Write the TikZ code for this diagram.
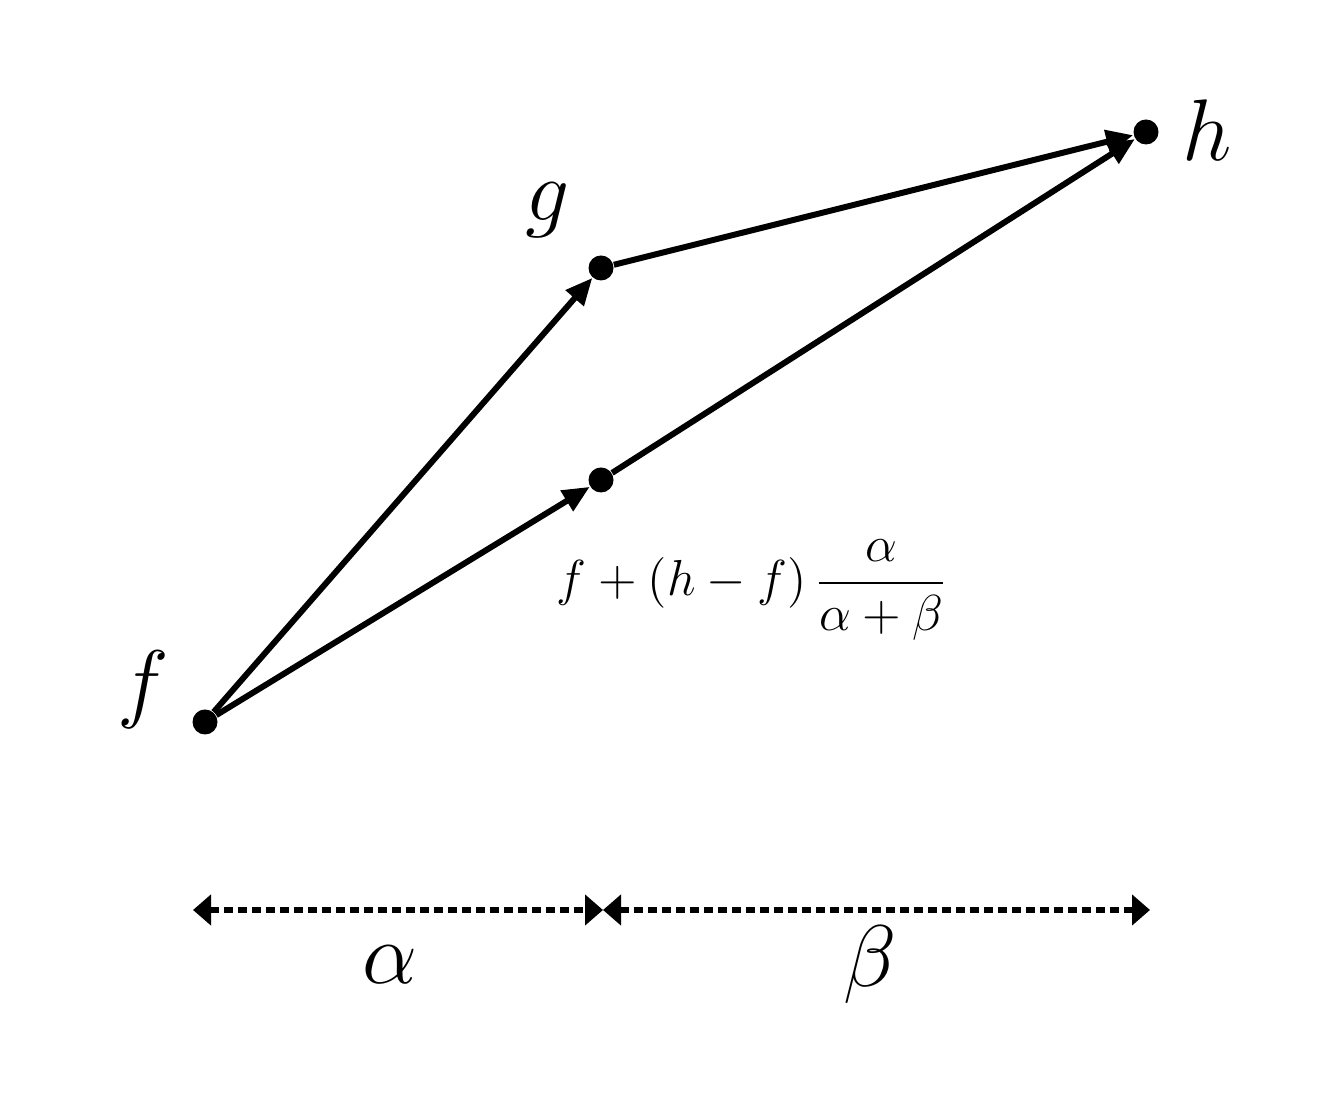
\documentclass[tikz,border=0pt]{standalone}
\usepackage{amsmath}
\usetikzlibrary{arrows.meta}
\tikzset{dot/.style={circle, fill=black, inner sep=0pt, minimum size=0.25cm}}
\tikzset{vec/.style={line width=1.7pt, -{Triangle[length=0.27cm,width=0.23cm]}}}
\tikzset{span/.style={line width=1.7pt, dash pattern=on 0.09cm off 0.05cm,
  {Triangle[length=0.18cm,width=0.3cm]}-{Triangle[length=0.18cm,width=0.3cm]}}}
\tikzset{lbl/.style={font=\fontsize{27}{32}\selectfont}}

\begin{document}
\begin{tikzpicture}
      \useasboundingbox (0, 0) rectangle (13.43, 10.95);

      \node [dot] (f) at (2.05, 3.73) {};
      \node [dot] (g) at (6.01, 8.27) {};
      \node [dot] (h) at (11.46, 9.63) {};
      \node [dot] (m) at (6.01, 6.15) {};

      \draw [vec] (f) -- (g);
      \draw [vec] (g) -- (h);
      \draw [vec] (f) -- (m);
      \draw [vec] (m) -- (h);

      \node [lbl] (lf) at (1.43, 4.05) {$f$};
      \node [lbl] (lg) at (5.48, 8.85) {$g$};
      \node [lbl] (lh) at (12.07, 9.65) {$h$};
      \node [font=\fontsize{14}{17}\selectfont] (expr) at (7.52, 5.05) {$f+(h-f)\,\dfrac{\alpha}{\alpha+\beta}$};

      \coordinate (a0) at (1.93, 1.85);
      \coordinate (a1) at (6.03, 1.85);
      \coordinate (a2) at (11.50, 1.85);
      \draw [span] (a0) -- (a1);
      \draw [span] (a1) -- (a2);

      \node [lbl] (la) at (3.90, 1.30) {$\alpha$};
      \node [lbl] (lb) at (8.70, 1.30) {$\beta$};
\end{tikzpicture}
\end{document}
